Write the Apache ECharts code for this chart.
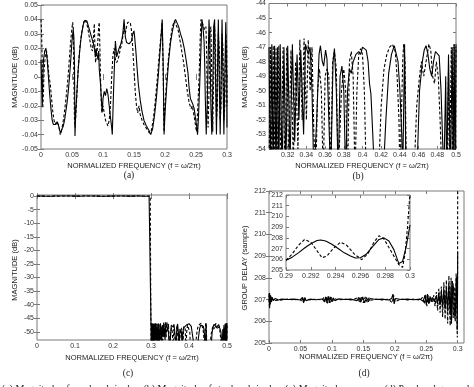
<!DOCTYPE html>
<html><head><meta charset="utf-8">
<script src="https://cdn.jsdelivr.net/npm/echarts@6/dist/echarts.min.js"></script>
<style>html,body{margin:0;padding:0;background:#fff}#c{width:474px;height:387px}</style>
</head><body><div id="c"></div>
<script>
// ---------- Panel (a): passband ripple (dB) ----------
const aSolid = [[0,0.012],[0.001,-0.005],[0.002,-0.021],[0.003,0.0],[0.004,0.012],[0.006,0.018],[0.008,0.02],[0.010,0.012],[0.012,0.0],[0.014,-0.012],[0.016,-0.022],[0.018,-0.03],[0.020,-0.033],[0.022,-0.034],[0.024,-0.033],[0.026,-0.031],[0.028,-0.033],[0.030,-0.037],[0.032,-0.039],[0.034,-0.036],[0.036,-0.034],[0.038,-0.03],[0.040,-0.024],[0.042,-0.018],[0.044,-0.01],[0.046,0.0],[0.048,0.012],[0.050,0.025],[0.052,0.033],[0.053,0.028],[0.054,0.01],[0.0548,-0.041],[0.056,-0.025],[0.058,-0.01],[0.060,0.005],[0.062,0.016],[0.064,0.025],[0.066,0.031],[0.068,0.036],[0.070,0.039],[0.072,0.04],[0.074,0.039],[0.076,0.036],[0.078,0.033],[0.080,0.03],[0.082,0.027],[0.084,0.024],[0.086,0.02],[0.088,0.014],[0.089,0.02],[0.090,0.016],[0.092,0.012],[0.093,0.018],[0.094,0.005],[0.096,-0.005],[0.098,-0.02],[0.099,-0.024],[0.100,-0.015],[0.102,-0.01],[0.104,-0.013],[0.106,-0.008],[0.108,-0.012],[0.110,-0.02],[0.112,-0.028],[0.114,-0.035],[0.115,-0.04],[0.117,-0.01],[0.119,0.015],[0.120,0.025],[0.121,0.02],[0.122,0.014],[0.124,0.017],[0.126,0.02],[0.128,0.022],[0.130,0.025],[0.132,0.03],[0.134,0.04],[0.136,0.028],[0.138,0.024],[0.140,0.025],[0.142,0.023],[0.144,0.022],[0.146,0.025],[0.148,0.03],[0.150,0.032],[0.151,0.028],[0.153,0.018],[0.155,0.006],[0.157,-0.005],[0.160,-0.016],[0.163,-0.024],[0.166,-0.03],[0.170,-0.034],[0.174,-0.037],[0.177,-0.04],[0.180,-0.036],[0.183,-0.027],[0.186,-0.015],[0.189,0.0],[0.192,0.018],[0.194,0.03],[0.1955,0.04],[0.197,0.01],[0.1985,-0.04],[0.200,-0.025],[0.203,-0.005],[0.206,0.012],[0.209,0.024],[0.212,0.032],[0.215,0.038],[0.217,0.04],[0.219,0.039],[0.222,0.035],[0.225,0.03],[0.228,0.026],[0.231,0.02],[0.234,0.012],[0.237,0.003],[0.239,-0.008],[0.241,-0.015],[0.243,-0.017],[0.245,-0.019],[0.247,-0.022],[0.249,-0.028],[0.251,-0.034],[0.2525,-0.04],[0.254,-0.028],[0.256,-0.005],[0.258,0.02],[0.2595,0.04],[0.261,0.036],[0.263,0.025],[0.264,0.01],[0.265,-0.015],[0.2665,-0.04],[0.268,-0.02],[0.2695,0.01],[0.271,0.04],[0.2725,0.02],[0.274,-0.02],[0.2755,-0.04],[0.277,-0.01],[0.2785,0.035],[0.28,0.04],[0.2815,0.0],[0.283,-0.04],[0.2845,0.0],[0.286,0.04],[0.2875,0.0],[0.289,-0.04],[0.2905,0.0],[0.292,0.04],[0.2935,0.0],[0.295,-0.04],[0.2965,0.0],[0.298,0.038],[0.2995,0.0],[0.3,-0.035]];
const aDashed = [[0,0.04],[0.001,0.03],[0.002,0.01],[0.003,-0.02],[0.004,-0.01],[0.005,0.005],[0.007,0.015],[0.009,0.018],[0.011,0.01],[0.013,0.0],[0.015,-0.005],[0.017,-0.015],[0.019,-0.024],[0.021,-0.03],[0.023,-0.033],[0.025,-0.031],[0.027,-0.03],[0.029,-0.034],[0.031,-0.04],[0.033,-0.037],[0.035,-0.033],[0.037,-0.027],[0.039,-0.02],[0.041,-0.012],[0.043,-0.003],[0.045,0.008],[0.047,0.02],[0.049,0.03],[0.051,0.038],[0.052,0.035],[0.053,0.0],[0.054,-0.03],[0.055,-0.035],[0.057,-0.02],[0.059,-0.002],[0.061,0.012],[0.063,0.022],[0.065,0.029],[0.067,0.034],[0.069,0.038],[0.071,0.04],[0.073,0.038],[0.075,0.035],[0.077,0.03],[0.079,0.025],[0.081,0.02],[0.083,0.018],[0.085,0.03],[0.086,0.037],[0.087,0.02],[0.088,0.01],[0.089,0.014],[0.091,0.02],[0.093,0.035],[0.094,0.038],[0.095,0.02],[0.096,0.0],[0.097,-0.015],[0.098,-0.025],[0.100,-0.02],[0.102,-0.025],[0.104,-0.03],[0.106,-0.032],[0.108,-0.034],[0.110,-0.03],[0.112,-0.02],[0.114,0.0],[0.116,0.015],[0.118,0.02],[0.120,0.012],[0.122,0.01],[0.124,0.012],[0.126,0.015],[0.128,0.02],[0.130,0.022],[0.132,0.028],[0.134,0.035],[0.136,0.03],[0.138,0.035],[0.140,0.038],[0.142,0.039],[0.144,0.038],[0.146,0.032],[0.148,0.02],[0.150,0.005],[0.152,-0.01],[0.154,-0.02],[0.156,-0.025],[0.158,-0.02],[0.160,-0.026],[0.163,-0.03],[0.166,-0.033],[0.169,-0.035],[0.172,-0.037],[0.175,-0.039],[0.178,-0.037],[0.181,-0.03],[0.184,-0.018],[0.187,-0.004],[0.190,0.012],[0.193,0.027],[0.1955,0.038],[0.197,0.005],[0.1985,-0.038],[0.200,-0.02],[0.203,0.0],[0.206,0.015],[0.209,0.027],[0.212,0.035],[0.215,0.039],[0.218,0.038],[0.221,0.033],[0.224,0.026],[0.227,0.018],[0.230,0.01],[0.233,0.0],[0.236,-0.01],[0.239,-0.018],[0.242,-0.022],[0.244,-0.02],[0.246,-0.025],[0.248,-0.03],[0.250,-0.036],[0.251,-0.038],[0.253,-0.02],[0.255,0.0],[0.257,0.03],[0.258,0.04],[0.260,0.038],[0.262,0.035],[0.264,0.033],[0.266,0.035],[0.267,0.02],[0.268,-0.01],[0.2695,-0.035],[0.271,-0.01],[0.2725,0.03],[0.274,0.035],[0.2755,0.0],[0.277,-0.038],[0.2785,0.0],[0.28,0.035],[0.2815,0.02],[0.283,-0.03],[0.2845,-0.02],[0.286,0.03],[0.2875,0.02],[0.289,-0.03],[0.2905,-0.02],[0.292,0.03],[0.2935,0.02],[0.295,-0.03],[0.2965,-0.02],[0.298,0.03],[0.2995,0.02],[0.3,-0.02]];

// ---------- Panel (b): stopband (dB) ----------
const bSolid = [[0.300,-47],[0.3015,-56],[0.303,-46.8],[0.3045,-56],[0.306,-46.9],[0.3075,-56],[0.309,-47],[0.3105,-56],[0.312,-46.8],[0.314,-56],[0.316,-47],[0.318,-56],[0.320,-46.9],[0.3225,-55],[0.325,-46.8],[0.3275,-53.5],[0.330,-47.5],[0.332,-52],[0.334,-47.2],[0.337,-53],[0.339,-46.8],[0.342,-47.5],[0.344,-47],[0.346,-50],[0.348,-56],[0.351,-52],[0.3535,-47.5],[0.355,-46.9],[0.357,-48],[0.3585,-48.3],[0.3605,-47.2],[0.362,-47.8],[0.364,-52],[0.366,-56],[0.3685,-48],[0.370,-47.1],[0.372,-50],[0.374,-56],[0.376,-49],[0.378,-48.3],[0.380,-50],[0.382,-56],[0.384,-50],[0.386,-48.5],[0.388,-48.8],[0.390,-48],[0.393,-47.5],[0.396,-47.3],[0.398,-47.5],[0.400,-47],[0.402,-46.9],[0.404,-47.2],[0.406,-48],[0.4075,-49.5],[0.409,-50.2],[0.411,-53],[0.413,-56],[0.422,-56],[0.425,-52],[0.428,-48.8],[0.431,-47.5],[0.434,-46.9],[0.436,-47],[0.438,-48],[0.440,-50],[0.442,-53],[0.443,-56],[0.445,-46.8],[0.4465,-56],[0.458,-56],[0.461,-50],[0.464,-48],[0.466,-47.2],[0.468,-46.9],[0.470,-47.5],[0.472,-48.5],[0.474,-49],[0.476,-48],[0.478,-47.3],[0.480,-47.2],[0.482,-47.6],[0.484,-50],[0.486,-54],[0.487,-56],[0.489,-49],[0.490,-56],[0.492,-47.5],[0.494,-56],[0.496,-47],[0.497,-56],[0.498,-46.8],[0.499,-56],[0.5,-46.8]];
const bDashed = [[0.300,-56],[0.3015,-47],[0.303,-56],[0.3045,-46.9],[0.306,-56],[0.3075,-47.1],[0.309,-56],[0.3105,-46.9],[0.313,-56],[0.315,-47],[0.317,-56],[0.319,-47],[0.321,-55],[0.3235,-47.2],[0.326,-55],[0.3285,-48],[0.331,-54],[0.333,-46.5],[0.3355,-52],[0.3375,-46.4],[0.340,-52],[0.342,-46.5],[0.344,-50],[0.346,-47],[0.348,-53],[0.350,-56],[0.352,-50],[0.354,-48.5],[0.356,-50],[0.358,-56],[0.360,-49],[0.362,-48.5],[0.364,-49],[0.366,-56],[0.368,-48],[0.370,-47.3],[0.372,-48.5],[0.374,-56],[0.3775,-50],[0.380,-48.5],[0.382,-50],[0.384,-56],[0.386,-48],[0.388,-47.3],[0.390,-49],[0.392,-56],[0.394,-50],[0.396,-47.5],[0.398,-47.1],[0.400,-47.5],[0.402,-50],[0.404,-56],[0.417,-56],[0.420,-51],[0.423,-48.5],[0.426,-47.5],[0.429,-47],[0.432,-46.8],[0.435,-47.3],[0.437,-49],[0.439,-52],[0.440,-56],[0.443,-48],[0.444,-46.8],[0.4455,-48],[0.447,-56],[0.455,-56],[0.458,-51],[0.461,-49],[0.463,-48],[0.4655,-49],[0.468,-48],[0.471,-46.8],[0.473,-47.2],[0.475,-49],[0.477,-49.5],[0.479,-48],[0.481,-49],[0.483,-52],[0.485,-56],[0.4905,-56],[0.492,-48.5],[0.493,-56],[0.495,-47],[0.4965,-56],[0.498,-46.8],[0.4995,-56],[0.5,-47]];

// ---------- Panel (d): group delay (samples) ----------
const dSolidMain = [[0,206.9],[0.0005,207.3],[0.001,206.6],[0.0015,207.2],[0.002,206.8],[0.003,207.15],[0.004,206.9],[0.005,207.1],[0.007,206.95],[0.01,207.05],[0.015,206.98],[0.02,207.02],[0.03,207.0],[0.04,207.02],[0.05,206.98],[0.053,207.1],[0.055,206.85],[0.057,207.1],[0.059,206.95],[0.065,207.02],[0.075,206.99],[0.085,207.03],[0.088,206.9],[0.09,207.12],[0.092,206.85],[0.094,207.15],[0.096,206.85],[0.098,207.12],[0.1,206.9],[0.102,207.08],[0.105,206.95],[0.11,207.03],[0.12,207.0],[0.13,207.02],[0.14,206.95],[0.143,207.1],[0.146,206.88],[0.149,207.12],[0.152,206.85],[0.155,207.1],[0.158,206.9],[0.161,207.05],[0.17,207.0],[0.18,207.02],[0.19,206.98],[0.195,207.05],[0.197,207.25],[0.199,206.8],[0.201,207.05],[0.21,207.0],[0.22,207.02],[0.23,206.99],[0.24,207.02],[0.245,206.92],[0.248,207.2],[0.25,206.75],[0.252,207.25],[0.254,206.8],[0.256,207.15],[0.258,206.9],[0.26,207.1],[0.263,206.9],[0.266,207.15],[0.268,206.8],[0.27,207.3],[0.272,206.75],[0.274,207.35],[0.276,206.65],[0.278,207.45],[0.28,206.55],[0.282,207.55],[0.284,206.45],[0.286,207.7],[0.288,206.3],[0.2895,207.6]];
const dDashedMain = [[0,207.25],[0.0005,206.7],[0.001,207.3],[0.0015,206.75],[0.0025,207.2],[0.0035,206.85],[0.005,207.1],[0.007,206.95],[0.01,207.03],[0.02,206.98],[0.03,207.02],[0.04,206.99],[0.05,207.02],[0.052,206.9],[0.054,207.12],[0.056,206.88],[0.058,207.05],[0.065,206.98],[0.075,207.02],[0.085,206.98],[0.087,207.1],[0.089,206.88],[0.091,207.15],[0.093,206.82],[0.095,207.18],[0.097,206.85],[0.099,207.1],[0.101,206.92],[0.104,207.05],[0.11,206.98],[0.12,207.02],[0.13,206.98],[0.141,207.08],[0.144,206.88],[0.147,207.15],[0.15,206.85],[0.153,207.12],[0.156,206.88],[0.159,207.08],[0.162,206.97],[0.17,207.02],[0.18,206.98],[0.19,207.02],[0.196,206.85],[0.198,207.2],[0.2,206.9],[0.21,207.02],[0.22,206.98],[0.23,207.02],[0.24,206.97],[0.244,207.1],[0.247,206.8],[0.249,207.25],[0.251,206.7],[0.253,207.2],[0.255,206.85],[0.257,207.1],[0.26,206.9],[0.262,207.2],[0.264,206.7],[0.266,207.35],[0.268,206.5],[0.27,207.5],[0.272,206.4],[0.274,207.6],[0.276,206.2],[0.278,207.8],[0.28,206.1],[0.282,207.9],[0.284,205.9],[0.286,208.1],[0.288,205.8],[0.2895,208.0]];
const insetSolid = [[0.29,205.9],[0.2905,206.2],[0.291,206.6],[0.2915,207.05],[0.292,207.45],[0.2925,207.75],[0.2928,207.8],[0.2932,207.7],[0.2937,207.4],[0.2942,207.0],[0.2947,206.6],[0.2952,206.3],[0.2956,206.12],[0.296,206.15],[0.2965,206.5],[0.297,207.2],[0.2975,207.85],[0.2979,208.0],[0.2983,207.7],[0.2987,206.9],[0.2991,205.6],[0.2994,205.8],[0.2997,207.2],[0.3,209.2]];
const insetDashed = [[0.29,205.9],[0.2905,206.5],[0.291,207.3],[0.2915,207.85],[0.292,207.6],[0.2925,206.8],[0.2929,206.15],[0.2933,206.3],[0.2938,207.0],[0.2944,207.6],[0.2949,207.3],[0.2955,206.5],[0.2961,205.97],[0.2966,206.5],[0.2971,207.6],[0.2975,208.2],[0.2979,207.9],[0.2985,206.7],[0.2991,205.5],[0.2994,205.25],[0.2996,206.5],[0.2998,209.0],[0.3,212.2]];

// ---------- Tick labels ----------
const aXTicks = [0,0.05,0.1,0.15,0.2,0.25,0.3];
const aYTicks = [-0.05,-0.04,-0.03,-0.02,-0.01,0,0.01,0.02,0.03,0.04,0.05];
const bXTicks = [0.32,0.34,0.36,0.38,0.4,0.42,0.44,0.46,0.48,0.5];
const bYTicks = [-54,-53,-52,-51,-50,-49,-48,-47,-46,-45,-44];
const cXTicks = [0,0.1,0.2,0.3,0.4,0.5];
const cYTicks = [-50,-45,-40,-35,-30,-25,-20,-15,-10,-5,0];
const dXTicks = [0,0.05,0.1,0.15,0.2,0.25,0.3];
const dYTicks = [205,206,207,208,209,210,211,212];
const eXTicks = [0.29,0.292,0.294,0.296,0.298,0.3];
const eYTicks = [205,206,207,208,209,210,211,212];

const cSolid = aSolid.concat(bSolid);
const cDashed = aDashed.concat(bDashed);
const dSolid = dSolidMain.concat(insetSolid);
const dDashed = dDashedMain.concat(insetDashed);

const SANS = 'Liberation Sans, Arial, Helvetica, sans-serif';
const SERIF = 'Liberation Serif, Times New Roman, serif';
const AX = '#7a7a7a';

const grids = [
  {left:41, top:5, width:186, height:144},
  {left:269, top:3, width:187, height:146},
  {left:37, top:195, width:190, height:145},
  {left:269, top:191, width:195, height:152},
  {left:286, top:195, width:124, height:75}
].map(g => Object.assign({show:true, borderColor:AX, borderWidth:1, backgroundColor:'#fff', containLabel:false}, g));

const ranges = [
  {x:[0,0.3], y:[-0.05,0.05], xt:aXTicks, yt:aYTicks},
  {x:[0.3,0.5], y:[-54,-44], xt:bXTicks, yt:bYTicks},
  {x:[0,0.5], y:[-53,0.4], xt:cXTicks, yt:cYTicks},
  {x:[0,0.31], y:[205,212], xt:dXTicks, yt:dYTicks},
  {x:[0.29,0.3], y:[205,212], xt:eXTicks, yt:eYTicks}
];

const xAxis = [], yAxis = [];
ranges.forEach((r, i) => {
  const fs = 7;
  const tick = {inside:true, length:3, lineStyle:{color:AX, width:1}};
  xAxis.push({gridIndex:i, type:'value', position:'bottom', min:r.x[0], max:r.x[1],
    axisLine:{show:false}, splitLine:{show:false},
    axisTick:Object.assign({customValues:r.xt}, tick),
    axisLabel:{customValues:r.xt, fontSize:fs, color:'#333', fontFamily:SANS, margin:3}});
  xAxis.push({gridIndex:i, type:'value', position:'top', min:r.x[0], max:r.x[1],
    axisLine:{show:false}, splitLine:{show:false},
    axisTick:Object.assign({customValues:r.xt}, tick), axisLabel:{show:false}});
  yAxis.push({gridIndex:i, type:'value', position:'left', min:r.y[0], max:r.y[1],
    axisLine:{show:false}, splitLine:{show:false},
    axisTick:Object.assign({customValues:r.yt}, tick),
    axisLabel:{customValues:r.yt, fontSize:fs, color:'#333', fontFamily:SANS, margin:3}});
  yAxis.push({gridIndex:i, type:'value', position:'right', min:r.y[0], max:r.y[1],
    axisLine:{show:false}, splitLine:{show:false},
    axisTick:Object.assign({customValues:r.yt}, tick), axisLabel:{show:false}});
});

function line(data, i, dashed) {
  return {type:'line', data:data, xAxisIndex:i*2, yAxisIndex:i*2, showSymbol:false, symbol:'none',
    clip:true, animation:false, silent:true,
    lineStyle:{color:'#000', width:1.1, type: dashed ? [3,2] : 'solid'}};
}

const series = [
  line(aSolid,0,false), line(aDashed,0,true),
  line(bSolid,1,false), line(bDashed,1,true),
  line(cSolid,2,false), line(cDashed,2,true),
  line(dSolid,3,false), line(dDashed,3,true),
  line(insetSolid,4,false), line(insetDashed,4,true)
];

function txt(x, y, text, opts) {
  return Object.assign({type:'text', x:x, y:y, silent:true,
    style:{text:text, fill:'#222', font:'7.5px ' + SANS, textAlign:'center', textVerticalAlign:'middle'}}, opts || {});
}
const XNAME = 'NORMALIZED FREQUENCY (f = \u03c9/2\u03c0)';
const graphic = [
  txt(15, 77, 'MAGNITUDE (dB)', {rotation:Math.PI/2}),
  txt(245, 77, 'MAGNITUDE (dB)', {rotation:Math.PI/2}),
  txt(15, 270, 'MAGNITUDE (dB)', {rotation:Math.PI/2}),
  txt(245, 268, 'GROUP DELAY (sample)', {rotation:Math.PI/2}),
  txt(134, 166, XNAME),
  txt(362, 166, XNAME),
  txt(132, 358, XNAME),
  txt(366, 357, XNAME),
  {type:'text', x:129, y:175, silent:true, style:{text:'(a)', fill:'#222', font:'9.5px ' + SERIF, textAlign:'center', textVerticalAlign:'middle'}},
  {type:'text', x:358, y:176, silent:true, style:{text:'(b)', fill:'#222', font:'9.5px ' + SERIF, textAlign:'center', textVerticalAlign:'middle'}},
  {type:'text', x:128, y:373, silent:true, style:{text:'(c)', fill:'#222', font:'9.5px ' + SERIF, textAlign:'center', textVerticalAlign:'middle'}},
  {type:'text', x:364, y:373, silent:true, style:{text:'(d)', fill:'#222', font:'9.5px ' + SERIF, textAlign:'center', textVerticalAlign:'middle'}},
  {type:'text', x:-6, y:389, silent:true, style:{text:'l. (a) Magnitude of passband ripples. (b) Magnitude of stopband ripples. (c) Magnitude response. (d) Passband group delay of the filter.', fill:'#222', font:'10px ' + SERIF, textAlign:'left', textVerticalAlign:'middle'}}
];

const chart = echarts.init(document.getElementById('c'), null, {renderer:'canvas'});
chart.setOption({animation:false, backgroundColor:'#fff', grid:grids, xAxis:xAxis, yAxis:yAxis, series:series, graphic:graphic});
</script></body></html>
